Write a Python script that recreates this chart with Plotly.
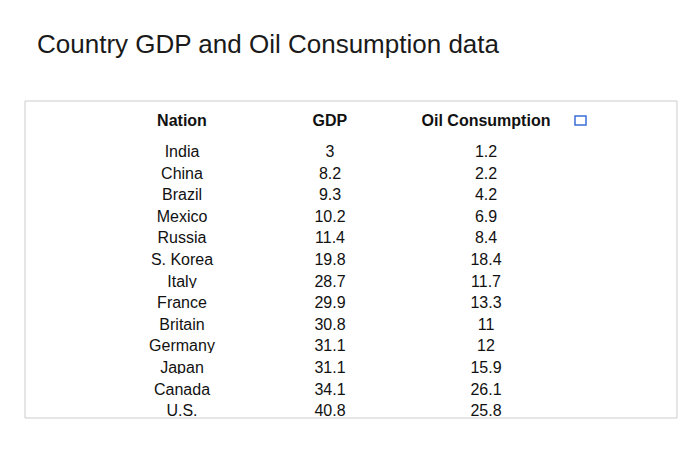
import plotly.graph_objects as go

nations = ["India", "China", "Brazil", "Mexico", "Russia", "S. Korea", "Italy",
           "France", "Britain", "Germany", "Japan", "Canada", "U.S."]
gdp = ["3", "8.2", "9.3", "10.2", "11.4", "19.8", "28.7", "29.9", "30.8",
       "31.1", "31.1", "34.1", "40.8"]
oil = ["1.2", "2.2", "4.2", "6.9", "8.4", "18.4", "11.7", "13.3", "11",
       "12", "15.9", "26.1", "25.8"]
headers = ["<b>Nation</b>", "<b>GDP</b>", "<b>Oil Consumption</b>"]

W, H = 700, 455
OFF = 8  # page body offset

table = go.Table(
    domain=dict(x=[(109 - OFF) / W, (567 - OFF) / W],
                y=[1 - (420 - OFF) / H, 1 - (104 - OFF) / H]),
    columnwidth=[146, 150, 162],
    header=dict(values=headers, align="center", height=13,
                fill_color="white", line_color="white",
                font=dict(family="Liberation Sans", size=16, color="#111")),
    cells=dict(values=[nations, gdp, oil], align="center", height=21.6,
               fill_color="white", line_color="white",
               font=dict(family="Liberation Sans", size=16, color="#111")),
)

fig = go.Figure(data=table)
fig.add_shape(type="rect", xref="paper", yref="paper",
              x0=(25 - OFF) / W, x1=(677 - OFF) / W,
              y0=1 - (418 - OFF) / H, y1=1 - (101 - OFF) / H,
              line=dict(color="#cccccc", width=1))
# small icon next to the header
fig.add_shape(type="rect", xref="paper", yref="paper",
              x0=(575 - OFF) / W, x1=(586 - OFF) / W,
              y0=1 - (125 - OFF) / H, y1=1 - (116 - OFF) / H,
              line=dict(color="#3b6fd6", width=1.5))
fig.update_layout(
    width=W, height=H, margin=dict(l=0, r=0, t=0, b=0),
    paper_bgcolor="white",
    title=dict(text="Country GDP and Oil Consumption data",
               x=(37 - OFF) / W, xanchor="left",
               y=1 - (44 - OFF) / H, yanchor="middle",
               font=dict(family="Liberation Sans", size=26, color="#1a1a1a")),
)
fig.write_html("out.html")
